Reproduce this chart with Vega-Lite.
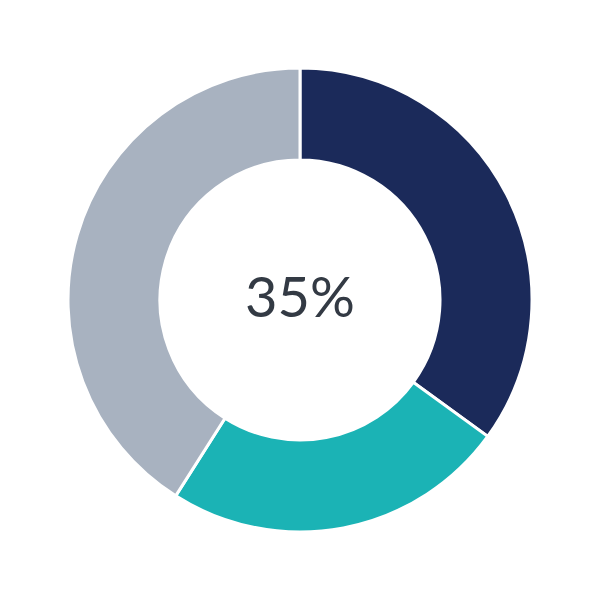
{
  "$schema": "https://vega.github.io/schema/vega-lite/v6.json",
  "width": 600,
  "height": 600,
  "padding": 0,
  "autosize": {"type": "fit", "contains": "padding"},
  "background": "#ffffff",
  "view": {"stroke": null},
  "layer": [
    {
      "data": {
        "values": [
          {"segment": "A", "order": 1, "value": 35},
          {"segment": "B", "order": 2, "value": 24},
          {"segment": "C", "order": 3, "value": 41}
        ]
      },
      "mark": {"type": "arc", "outerRadius": 232, "innerRadius": 140, "stroke": "#ffffff", "strokeWidth": 3},
      "encoding": {
        "theta": {"field": "value", "type": "quantitative", "stack": true},
        "order": {"field": "order", "type": "quantitative"},
        "color": {
          "field": "segment",
          "type": "nominal",
          "scale": {"domain": ["A", "B", "C"], "range": ["#1b2a5a", "#1bb3b5", "#a8b2c0"]},
          "legend": null
        }
      }
    },
    {
      "data": {"values": [{"label": "35%"}]},
      "mark": {"type": "text", "fontSize": 56, "font": "Lato", "color": "#333a44", "align": "center", "baseline": "middle"},
      "encoding": {"text": {"field": "label", "type": "nominal"}}
    }
  ]
}
